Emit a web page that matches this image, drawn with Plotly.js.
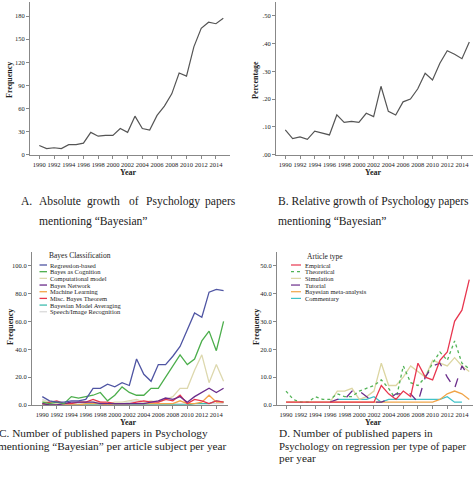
<!DOCTYPE html>
<html><head><meta charset="utf-8">
<script src="https://cdn.plot.ly/plotly-3.0.1.min.js"></script>
<style>html,body{margin:0;padding:0;background:#fff}#c{width:474px;height:490px}</style>
</head><body><div id="c"></div>
<script>
const years = [1990,1991,1992,1993,1994,1995,1996,1997,1998,1999,2000,2001,2002,2003,2004,2005,2006,2007,2008,2009,2010,2011,2012,2013,2014,2015];
const xTicks = [1990,1992,1994,1996,1998,2000,2002,2004,2006,2008,2010,2012,2014];

// Panel A: absolute frequency
const absFreq = [12,8,9,8,13,13,15,29,24,25,25,34,29,50,34,32,51,63,79,106,102,140,164,172,170,177];
// Panel B: percentage
const relPct = [0.089,0.058,0.064,0.055,0.085,0.078,0.071,0.143,0.116,0.12,0.116,0.149,0.137,0.246,0.156,0.143,0.19,0.2,0.237,0.293,0.269,0.329,0.374,0.361,0.345,0.405];

// Panel C: Bayes classification
const cNames = ["Regression-based","Bayes as Cognition","Computational model","Bayes Network","Machine Learning","Misc. Bayes Theorem","Bayesian Model Averaging","Speech/Image Recognition"];
const regression   = [6,3,2,2,3,3,4,12,12,15,13,16,14,33,22,17,29,29,35,42,54,66,63,81,83,82];
const cognition    = [2,1,2,1,6,5,6,7,9,3,7,13,9,7,7,12,12,20,28,36,29,33,46,53,39,60];
const computational= [3,2,1,1,1,2,2,2,2,1,2,2,3,4,2,3,2,4,6,12,12,25,36,16,29,17];
const network      = [1,0,0,1,2,2,2,2,1,1,1,1,1,1,1,2,3,5,4,6,2,6,9,12,9,12];
const machine      = [0,0,0,0,0,0,1,1,1,0,1,1,1,1,1,1,1,1,1,3,1,1,2,7,2,2];
const misc         = [1,2,3,1,1,2,2,4,2,2,1,1,1,2,3,2,2,4,3,7,1,4,3,1,3,2];
const averaging    = [0,0,0,0,0,0,0,0,0,0,0,0,0,0,0,0,0,0,0,0,0,1,1,1,3,2];
const speech       = [4,2,1,1,1,1,1,1,1,1,1,1,2,3,1,1,1,1,1,1,1,1,1,1,1,1];

// Panel D: article type
const dNames = ["Empirical","Theoretical","Simulation","Tutorial","Bayesian meta-analysis","Commentary"];
const empirical   = [1,1,1,1,1,1,1,1,1,1,1,1,1,7,4,2,5,3,15,10,9,16,19,30,34,45];
const theoretical = [5,2,1,1,3,2,2,4,3,3,5,6,7,9,6,2,14,8,7,10,15,19,16,23,15,13];
const simulation  = [1,1,1,1,1,1,1,5,5,6,2,3,5,15,7,7,10,14,12,10,16,15,14,17,14,12];
const tutorial    = [null,null,null,null,null,null,1,2,2,5,5,3,1,1,2,4,4,4,1,10,14,15,10,6,14,10];
const metaAnalysis= [1,1,1,1,1,1,1,1,1,1,1,1,1,1,1,1,1,1,1,1,1,2,4,5,4,2];
const commentary  = [null,null,null,null,null,null,null,2,2,2,2,2,3,1,2,2,2,2,2,2,2,2,3,1,1,null];

const W = 474, H = 490;
const px = x => x / W;
const py = y => 1 - y / H;
const FONT = "Liberation Serif, Times New Roman, serif";

const cColors = ["#4f55a3","#4cae4c","#ddd8ae","#6a2c8a","#f3a54a","#e8344c","#3fbcae","#d9d9d9"];
const dColors = ["#e8364f","#52b356","#dcd6a2","#6a2c8a","#f0a448","#40c2c8"];
const dDash = ["solid","dot","solid","dash","solid","solid"];

const traces = [];
traces.push({x: years, y: absFreq, type: "scatter", mode: "lines", line: {color: "#555", width: 1.2}, xaxis: "x", yaxis: "y", showlegend: false});
traces.push({x: years, y: relPct, type: "scatter", mode: "lines", line: {color: "#555", width: 1.2}, xaxis: "x2", yaxis: "y2", showlegend: false});
const cSeries = [regression, cognition, computational, network, machine, misc, averaging, speech];
const cOrder = [7,6,4,2,5,3,1,0];
cOrder.forEach(i => traces.push({x: years, y: cSeries[i], name: cNames[i], type: "scatter", mode: "lines", line: {color: cColors[i], width: 1.3}, xaxis: "x3", yaxis: "y3", showlegend: false}));
const dSeries = [empirical, theoretical, simulation, tutorial, metaAnalysis, commentary];
const dOrder = [5,4,2,1,3,0];
dOrder.forEach(i => traces.push({x: years, y: dSeries[i], name: dNames[i], type: "scatter", mode: "lines", line: {color: dColors[i], width: 1.3, dash: dDash[i]}, xaxis: "x4", yaxis: "y4", showlegend: false}));

function xax(d0, d1, r0, r1, anchor) {
  return {domain: [px(d0), px(d1)], range: [r0, r1], anchor: anchor, tickvals: xTicks, ticktext: xTicks.map(String),
    tickangle: 0, automargin: false,
    showgrid: false, zeroline: false, showline: true, linecolor: "#888", linewidth: 1, ticks: "outside", ticklen: 3, tickcolor: "#888",
    tickfont: {family: FONT, size: 6.5, color: "#222"}, fixedrange: true};
}
function yax(d0, d1, r1, vals, txt, anchor) {
  return {domain: [py(d0), py(d1)], range: [0, r1], anchor: anchor, tickvals: vals, ticktext: txt, automargin: false,
    showgrid: false, zeroline: false, showline: true, linecolor: "#888", linewidth: 1, ticks: "outside", ticklen: 3, tickcolor: "#888",
    tickfont: {family: FONT, size: 6.5, color: "#222"}, fixedrange: true};
}

const layout = {
  width: W, height: H, margin: {l: 0, r: 0, t: 0, b: 0, pad: 0, autoexpand: false}, paper_bgcolor: "#fff", plot_bgcolor: "#fff", showlegend: false,
  font: {family: FONT, color: "#222"},
  xaxis: xax(30, 230, 1988.74, 2015.91, "y"),
  yaxis: yax(154.7, 2, 198.2, [0,30,60,90,120,150,180], ["0","30","60","90","120","150","180"], "x"),
  xaxis2: xax(276, 473, 1988.74, 2015.5, "y2"),
  yaxis2: yax(154.7, 2, 0.549, [0,0.1,0.2,0.3,0.4,0.5], [".00",".10",".20",".30",".40",".50"], "x2"),
  xaxis3: xax(32, 228, 1988.58, 2015.61, "y3"),
  yaxis3: yax(405, 251.7, 110, [0,20,40,60,80,100], ["0.0","20.0","40.0","60.0","80.0","100.0"], "x3"),
  xaxis4: xax(277, 473, 1988.77, 2015.51, "y4"),
  yaxis4: yax(405, 251.7, 55, [0,10,20,30,40,50], ["0.0","10.0","20.0","30.0","40.0","50.0"], "x4"),
  annotations: [], shapes: []
};

function ann(text, x, y, opts) {
  layout.annotations.push(Object.assign({text: text, x: px(x), y: py(y), xref: "paper", yref: "paper", showarrow: false,
    xanchor: "left", yanchor: "middle", borderpad: 0, font: {family: FONT, size: 12, color: "#222"}}, opts || {}));
}
// axis titles
const axT = {xanchor: "center", font: {family: FONT, size: 8, color: "#222"}};
ann("<b>Frequency</b>", 10, 80, Object.assign({textangle: -90}, axT));
ann("<b>Percentage</b>", 256, 80, Object.assign({textangle: -90}, axT));
ann("<b>Frequency</b>", 10, 327, Object.assign({textangle: -90}, axT));
ann("<b>Frequency</b>", 256, 327, Object.assign({textangle: -90}, axT));
ann("<b>Year</b>", 128, 172, axT);
ann("<b>Year</b>", 373, 172, axT);
ann("<b>Year</b>", 128, 422, axT);
ann("<b>Year</b>", 373, 422, axT);

// captions A (justified words)
const capAB = {font: {family: FONT, size: 11.6, color: "#222"}};
const capA = [["A.", 20], ["Absolute", 37.7], ["growth", 86], ["of", 127.5], ["Psychology", 145], ["papers", 203.5]];
capA.forEach(w => ann(w[0], w[1], 201.7, capAB));
ann("mentioning “Bayesian”", 37.7, 221, capAB);
ann("B. Relative growth of Psychology papers", 277, 201.7, capAB);
ann("mentioning “Bayesian”", 277, 221, capAB);
// captions C and D
const capF = {font: {family: FONT, size: 11.3, color: "#222"}};
ann("C. Number of published papers in Psychology", -2, 432.7, capF);
ann("mentioning “Bayesian” per article subject per year", -3, 445.5, capF);
ann("D. Number of published papers in", 278, 432.7, capF);
ann("Psychology on regression per type of paper", 278, 445.5, {font: {family: FONT, size: 10.8, color: "#222"}});
ann("per year", 278, 458, capF);

// manual legends
const legF = {font: {family: FONT, size: 6.5, color: "#222"}};
ann("Bayes Classification", 48, 255.7, {font: {family: FONT, size: 7.5, color: "#222"}});
cNames.forEach((n, i) => {
  const yy = 265 + i * 6.68;
  ann(n, 48.5, yy, legF);
  layout.shapes.push({type: "line", xref: "paper", yref: "paper", x0: px(39.5), x1: px(47), y0: py(yy), y1: py(yy), line: {color: cColors[i], width: 1.3}});
});
ann("Article type", 305.5, 256, {font: {family: FONT, size: 7.5, color: "#222"}});
dNames.forEach((n, i) => {
  const yy = 265 + i * 6.68;
  ann(n, 303.5, yy, legF);
  layout.shapes.push({type: "line", xref: "paper", yref: "paper", x0: px(291), x1: px(301), y0: py(yy), y1: py(yy), line: {color: dColors[i], width: 1.2, dash: dDash[i]}});
});

Plotly.newPlot("c", traces, layout, {displayModeBar: false, staticPlot: true});
</script></body></html>
